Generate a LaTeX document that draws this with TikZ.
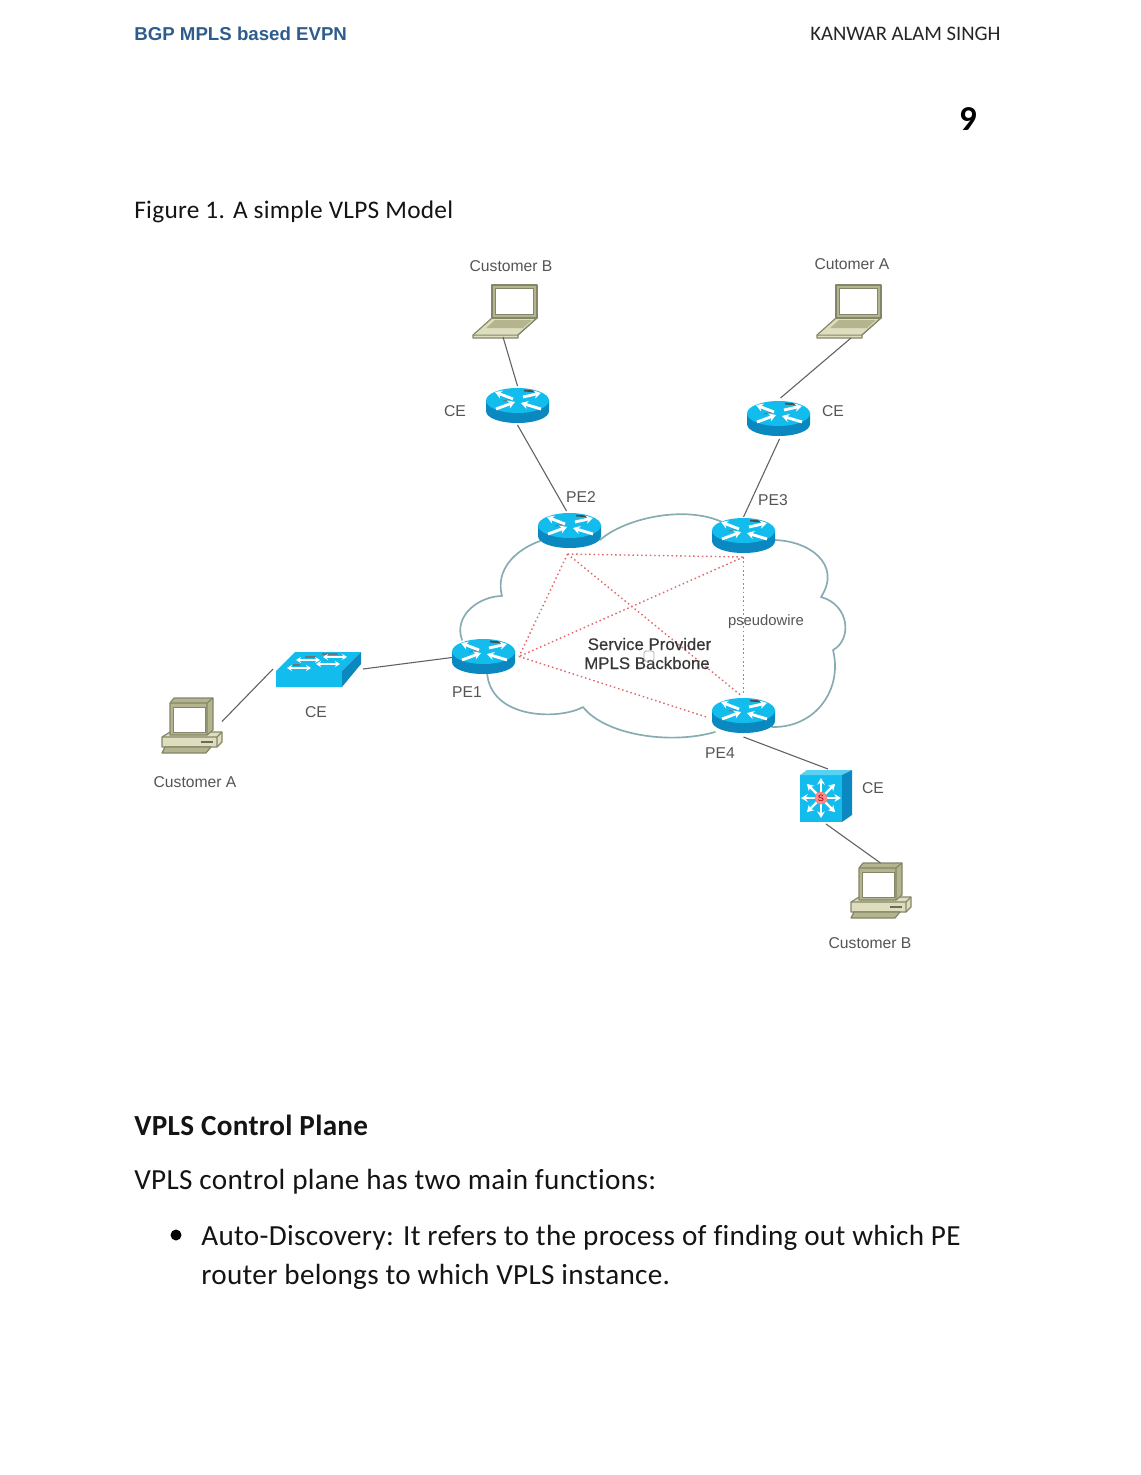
\documentclass[tikz,border=0pt]{standalone}
\usepackage{fontspec}
\setmainfont{Carlito}
\newfontfamily\calsp[LetterSpace=1.1,Ligatures=NoCommon]{Carlito}
\newfontfamily\lib{Liberation Sans}
\newfontfamily\libfb[FakeBold=0.4]{Liberation Sans}
\usetikzlibrary{arrows.meta}
\definecolor{rtop}{HTML}{12BDEE}
\definecolor{rside}{HTML}{0A88BF}
\definecolor{olv}{HTML}{85856A}
\definecolor{beige}{HTML}{DEDEBE}
\definecolor{beiged}{HTML}{B4B48F}
\definecolor{cloudc}{HTML}{86ABB3}
\definecolor{dotc}{HTML}{E2686C}
\definecolor{labc}{HTML}{555555}
\definecolor{headc}{HTML}{2F5C8F}
\tikzset{
 iconbox/.style={inner sep=0pt,outer sep=0pt,draw=none},
 lnk/.style={draw=black!62,line width=0.65pt},
 pw/.style={draw=dotc,line width=0.85pt,dash pattern=on 0.9pt off 1.7pt},
 pwv/.style={draw=dotc,line width=1.1pt,dash pattern=on 1pt off 1.6pt},
 cloudl/.style={draw=cloudc,line width=1pt},
 wa/.style={draw=white,line width=1.7pt,-{Stealth[length=4.2pt,width=5pt]}},
 wb/.style={draw=white,line width=1.3pt,-{Stealth[length=4pt,width=4.6pt]}},
 wc/.style={draw=white,line width=1.1pt,<->,>={Stealth[length=3pt,width=3.6pt]}},
 lab/.style={font=\lib\fontsize{9.4}{11}\selectfont,text=labc,inner sep=0pt},
 labb/.style={font=\libfb\fontsize{10.1}{12}\selectfont,text=black!78,inner sep=0pt},
 body/.style={font=\calsp\fontsize{17.5}{20}\selectfont,text=black!92,anchor=west,inner sep=0pt},
 oln/.style={draw=olv,line width=0.7pt,line join=round}
}
\newcommand{\rtr}[3]{%
 \node[iconbox,minimum width=37.8pt,minimum height=21pt] (#1) at (#2+31.5,#3+17.5) {};
 \begin{scope}[shift={(#2,#3)}]
 \fill[rside] (0,12) -- (0,23) .. controls (0,30) and (14,35) .. (31.5,35) .. controls (49,35) and (63,30) .. (63,23) -- (63,12) -- cycle;
 \fill[rtop] (31.5,12.5) ellipse [x radius=31.5,y radius=12.5];
 \draw[black!70,line width=1.1pt] (38,2.5) -- (49,3.5);
 \draw[black!55,line width=0.5pt] (17,13) -- (26,11);
 \draw[wa] (27,11) -- (9,4);
 \draw[wa] (37,9) -- (55,5);
 \draw[wa] (10,21) -- (29,14);
 \draw[wa] (55,21) -- (35,15);
 \end{scope}}
\newcommand{\lap}[3]{%
 \node[iconbox,minimum width=39.6pt,minimum height=31.8pt] (#1) at (#2+33,#3+26.5) {};
 \begin{scope}[shift={(#2,#3)}]
 \fill[beige,oln] (1,50) -- (20,33) -- (65,33) -- (46,50) -- (46,53) -- (1,53) -- cycle;
 \fill[beiged] (14,43) -- (23,35) -- (60,35) -- (51,43) -- cycle;
 \draw[olv,line width=0.6pt] (1,50) -- (46,50) -- (65,33);
 \fill[beiged,oln] (20,0) -- (65,0) -- (65,33) -- (20,33) -- cycle;
 \fill[white,draw=olv,line width=0.4pt] (23,3) rectangle (61,29);
 \end{scope}}
\newcommand{\pcb}[3]{%
 \node[iconbox,minimum width=36.6pt,minimum height=33pt] (#1) at (#2+30.5,#3+27.5) {};
 \begin{scope}[shift={(#2,#3)}]
 \fill[beige,oln] (1,40) -- (9,35) -- (61,35) -- (61,45) -- (56,50) -- (1,50) -- cycle;
 \draw[oln] (1,40) -- (56,40) -- (61,35) (56,40) -- (56,50);
 \fill[olv!80!black] (40,43.5) rectangle (52,45.5);
 \fill[beiged,oln] (4,50) -- (50,50) -- (45,56) -- (1,56) -- cycle;
 \fill[beiged,oln] (9,6) -- (13,1) -- (52,1) -- (52,33) -- (46,38) -- (9,38) -- cycle;
 \draw[oln] (9,6) -- (46,6) -- (52,1) (46,6) -- (46,38);
 \fill[white,draw=olv,line width=0.4pt] (12,10) rectangle (44,35);
 \end{scope}}
\begin{document}
\begin{tikzpicture}[x=0.6pt,y=-0.6pt]
\useasboundingbox[fill=white] (0,0) rectangle (1140,1475);
% page text
\node[anchor=west,inner sep=0pt,font=\lib\bfseries\fontsize{11.2}{14}\selectfont,text=headc] (hleft) at (134,34) {BGP MPLS based EVPN};
\node[anchor=west,inner sep=0pt,font=\fontsize{12.4}{15}\selectfont,text=black!85] (hright) at (810,34) {KANWAR ALAM SINGH};
\node[inner sep=0pt,font=\bfseries\fontsize{21}{24}\selectfont] (pageno) at (968,119) {9};
\node[body,font=\calsp\fontsize{15.2}{18}\selectfont] (figcap) at (134,212) {Figure 1. A simple VLPS Model};
\node[body,font=\calsp\bfseries\fontsize{17.5}{20}\selectfont] (secttl) at (134,1125) {VPLS Control Plane};
\node[body] (p1) at (134,1181.5) {VPLS control plane has two main functions:};
\fill[black] (176,1235) circle [radius=5.5];
\node[body] (p2) at (201,1237.5) {Auto-Discovery: It refers to the process of finding out which PE};
\node[body] (p3) at (201,1276.5) {router belongs to which VPLS instance.};
% cloud
\draw[cloudl,line cap=round,line join=round]
 (600,540) .. controls (625,518) and (685,505) .. (722,522)
 (772,540) .. controls (810,540) and (842,565) .. (821,597)
 .. controls (850,605) and (852,640) .. (833,650)
 .. controls (843,690) and (815,728) .. (772,727)
 (715,732) .. controls (670,745) and (605,735) .. (583,707)
 .. controls (560,720) and (490,720) .. (487,672)
 (462,640) .. controls (453,615) and (480,596) .. (502,596)
 .. controls (495,570) and (515,550) .. (540,541);
% routers and end hosts
\rtr{ceone}{486}{388}
\rtr{cetwo}{747}{401}
\rtr{petwo}{538}{513}
\rtr{pethree}{712}{518}
\rtr{peone}{452}{639}
\rtr{pefour}{712}{698}
\lap{lapb}{472}{285}
\lap{lapa}{816}{285}
\pcb{pca}{161}{697}
\pcb{pcb}{850}{862}
% access switch
\node[iconbox,minimum width=51pt,minimum height=21pt] (swa) at (318.5,669) {};
\fill[rtop] (276,671) -- (295,652) -- (361,652) -- (342,671) -- (342,687) -- (276,687) -- cycle;
\fill[rside] (342,671) -- (361,652) -- (361,664) -- (342,687) -- cycle;
\draw[black!55,line width=0.8pt] (305,657) -- (316,657) (322,654) -- (338,654) (293,665) -- (300,665);
\draw[wc] (287,668) -- (311,668);
\draw[wc] (296,660) -- (320,660);
\draw[wc] (316,664) -- (340,664);
\draw[wc] (323,657) -- (347,657);
% layer 3 switch
\node[iconbox,minimum width=31.2pt,minimum height=31.2pt] (swl) at (826,796) {};
\begin{scope}[shift={(800,770)}]
\fill[rtop] (0,5) rectangle (42,52);
\fill[rtop!70!white] (0,5) -- (7,0) -- (52,0) -- (42,5) -- cycle;
\fill[rside] (42,5) -- (52,0) -- (52,45) -- (42,52) -- cycle;
\draw[black!75,line width=0.8pt] (21,11) -- (21,45);
\foreach \a in {0,45,...,315} \draw[wb] (21,28) -- ++(\a:20);
\fill[red!45!white,draw=red!55!white,line width=0.3pt] (21,28) circle [radius=6];
\node[inner sep=0pt,font=\lib\fontsize{5.5}{6}\selectfont,text=red!60!black] (sw3s) at (21,28) {S};
\end{scope}
% pseudowires
\draw[pw] ([shift={(-2,6)}]petwo.south) -- ([shift={(0,4)}]pethree.south);
\draw[pw] ([shift={(-2,6)}]petwo.south) -- ([shift={(4,0)}]peone.east);
\draw[pw] ([shift={(-2,6)}]petwo.south) -- ([shift={(-3,-3)}]pefour.north);
\draw[pw] ([shift={(0,4)}]pethree.south) -- ([shift={(4,0)}]peone.east);
\draw[pwv] ([shift={(0,4)}]pethree.south) -- ([shift={(0,-3)}]pefour.north);
\draw[pw] ([shift={(4,0)}]peone.east) -- ([shift={(-4,2)}]pefour.west);
% links
\draw[lnk] ([shift={(-2,-1)}]lapb.south) -- ([shift={(0,-2)}]ceone.north);
\draw[lnk] ([shift={(0,2)}]ceone.south) -- ([shift={(-3,-2)}]petwo.north);
\draw[lnk] ([shift={(2,0)}]lapa.south) -- ([shift={(2,-3)}]cetwo.north);
\draw[lnk] ([shift={(1,3)}]cetwo.south) -- ([shift={(0,-1)}]pethree.north);
\draw[lnk] ([shift={(2,0)}]swa.east) -- ([shift={(0,1)}]peone.west);
\draw[lnk] ([shift={(0,-3)}]pca.east) -- ([shift={(-3,0)}]swa.west);
\draw[lnk] ([shift={(0,4)}]pefour.south) -- ([shift={(2,-1)}]swl.north);
\draw[lnk] ([shift={(0,2)}]swl.south) -- ([shift={(0,1)}]pcb.north);
% labels
\node[lab] (l1) at (511,266) {Customer B};
\node[lab] (l2) at (852,264) {Cutomer A};
\node[lab] (l3) at (455,411) {CE};
\node[lab] (l4) at (833,411) {CE};
\node[lab] (l5) at (581,497) {PE2};
\node[lab] (l6) at (773,500) {PE3};
\node[lab,font=\lib\fontsize{8.9}{11}\selectfont] (l7) at (766,622) {pseudowire};
\node[labb] (l8) at (649.5,644) {Service Provider};
\node[labb] (l9) at (647,663) {MPLS Backbone};
\node[lab] (l10) at (467,692) {PE1};
\node[lab] (l11) at (720,753) {PE4};
\node[lab] (l12) at (316,712) {CE};
\node[lab] (l13) at (195,782) {Customer A};
\node[lab] (l14) at (873,788) {CE};
\node[lab] (l15) at (870,943.5) {Customer B};
\draw[black!35,line width=0.4pt,rounded corners=1pt] (644,651) rectangle (654,661);
\end{tikzpicture}
\end{document}
